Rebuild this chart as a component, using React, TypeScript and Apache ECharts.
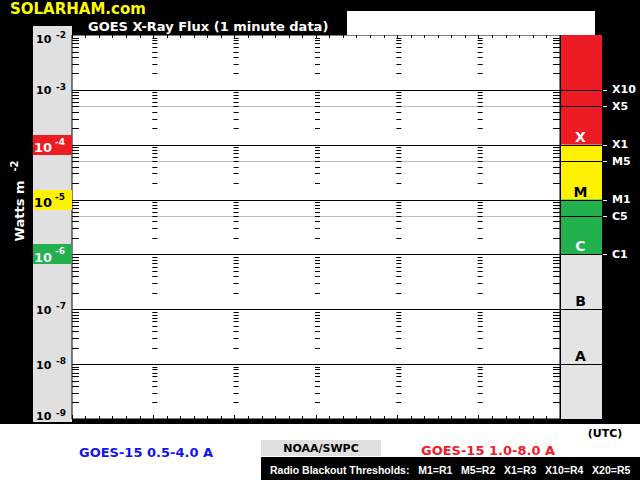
import { useEffect, useRef } from 'react'
import * as echarts from 'echarts'

// flux scale (W m^-2), decades shown on the left column
const decadeExponents = [-2, -3, -4, -5, -6, -7, -8, -9]
const minorMultipliers = [2, 3, 4, 5, 6, 7, 8, 9]
const timeBoundaries = [0, 1, 2, 3, 4, 5, 6]
const halfDecadeLines = [5e-4, 5e-5, 5e-6]

// flare classes
const classNames = ['X', 'M', 'C', 'B', 'A']
const classLower = [1e-4, 1e-5, 1e-6, 1e-7, 1e-8]
const classUpper = [1e-2, 1e-4, 1e-5, 1e-6, 1e-7]
const classFill = ['#ed1c24', '#fff200', '#22b14c', '#e4e4e4', '#e4e4e4']
const classInk = ['#ffffff', '#000000', '#eef6ff', '#000000', '#000000']
const highlightedDecades = [-4, -5, -6] // boxes coloured like X, M, C

const thresholdNames = ['X10', 'X5', 'X1', 'M5', 'M1', 'C5', 'C1']
const thresholdValues = [1e-3, 5e-4, 1e-4, 5e-5, 1e-5, 5e-6, 1e-6]

const channelNames = ['GOES-15 0.5-4.0 A', 'GOES-15 1.0-8.0 A']
const channelColors = ['#1414f0', '#f01c28']
const blackoutScales = ['M1=R1', 'M5=R2', 'X1=R3', 'X10=R4', 'X20=R5']

const FONT = 'DejaVu Sans'
const crisp = (v: number) => Math.round(v) + 0.5
const txt = (text: string, x: number, y: number, size: number, fill: string, align = 'left', extra: any = {}) =>
  ({ type: 'text', x, y, ...extra, style: { text, fill, fontSize: size, fontWeight: 'bold', fontFamily: FONT, align, verticalAlign: 'middle' } })
const hline = (xa: number, xb: number, y: number, stroke: string) =>
  ({ type: 'line', shape: { x1: xa, y1: y, x2: xb, y2: y }, style: { stroke, lineWidth: 1 } })

function renderPlot(_p: any, api: any) {
  const ch: any[] = []
  const xa = api.coord([0, 1e-5])[0], xb = api.coord([6, 1e-5])[0]
  halfDecadeLines.forEach(v => ch.push(hline(xa, xb, crisp(api.coord([0, v])[1]), '#bdbdbd')))
  timeBoundaries.forEach((t, i) => {
    const bx = api.coord([t, 1e-5])[0]
    const [a, b] = i === 0 ? [bx, bx + 7] : i === timeBoundaries.length - 1 ? [bx - 7, bx] : [bx - 1, bx + 4]
    decadeExponents.slice(1).forEach(e => minorMultipliers.forEach(k => {
      ch.push(hline(a, b, crisp(api.coord([t, k * Math.pow(10, e)])[1]), '#000'))
    }))
  })
  decadeExponents.slice(1, -1).forEach(e => ch.push(hline(xa, xb, crisp(api.coord([0, Math.pow(10, e)])[1]), '#000')))
  return { type: 'group', children: ch }
}

function renderClasses(_p: any, api: any) {
  const ch: any[] = []
  const l = api.coord([0, 1e-5])[0], r = api.coord([1, 1e-5])[0]
  const top = api.coord([0, 1e-2])[1], bot = api.coord([0, 1e-9])[1]
  ch.push({ type: 'rect', shape: { x: l, y: top, width: r - l, height: bot - top }, style: { fill: '#e4e4e4' } })
  classNames.forEach((n, i) => {
    const yt = api.coord([0, classUpper[i]])[1], yb = api.coord([0, classLower[i]])[1]
    ch.push({ type: 'rect', shape: { x: l, y: yt, width: r - l, height: yb - yt }, style: { fill: classFill[i] } })
    ch.push(txt(n, (l + r) / 2 - 1, yb - 8, 14, classInk[i], 'center'))
  })
  const lines = thresholdValues.concat(decadeExponents.slice(1, -1).map(e => Math.pow(10, e)))
  lines.forEach(v => ch.push(hline(l - 1, r, crisp(api.coord([0, v])[1]), '#000')))
  thresholdNames.forEach((n, i) => {
    const y = api.coord([0, thresholdValues[i]])[1]
    ch.push(hline(r + 1, r + 5, crisp(y), '#fff'))
    ch.push(txt(n, r + 10, y, 11, '#fff'))
  })
  return { type: 'group', children: ch }
}

function renderDecadeLabels(_p: any, api: any) {
  const ch: any[] = []
  const l = api.coord([0, 1e-5])[0], r = api.coord([1, 1e-5])[0]
  const top = api.coord([0, 1e-2])[1], bot = api.coord([0, 1e-9])[1]
  decadeExponents.forEach(e => {
    const y = api.coord([0, Math.pow(10, e)])[1]
    const ci = highlightedDecades.indexOf(e)
    if (ci >= 0) {
      ch.push({ type: 'rect', shape: { x: l, y: Math.round(y) - 10, width: r - l, height: 20 }, style: { fill: classFill[ci] } })
      const cy = y + 3
      ch.push(txt('10', l + 1, cy, 13, classInk[ci]))
      ch.push(txt(String(e), l + 22, cy - 6, 9, classInk[ci]))
    } else {
      const cy = Math.min(Math.max(y + 1, top + 4), bot - 2.5)
      ch.push(txt('10', l + 3, cy, 11, '#000'))
      ch.push(txt(String(e), l + 23, cy - 4, 9, '#000'))
    }
  })
  return { type: 'group', children: ch }
}

export default function App() {
  const ref = useRef<HTMLDivElement>(null)

  useEffect(() => {
    if (!ref.current) return
    const chart = echarts.init(ref.current, null, { renderer: 'svg' })
    const logAxis = (gridIndex: number) => ({
      gridIndex, type: 'log' as const, logBase: 10, min: 1e-9, max: 1e-2,
      axisLine: { show: false }, axisTick: { show: false }, axisLabel: { show: false }, splitLine: { show: false },
    })
    const timeAxis = (position: 'top' | 'bottom') => ({
      gridIndex: 0, type: 'value' as const, position, min: 0, max: 6, interval: 1,
      axisLine: { show: false }, axisLabel: { show: false }, splitLine: { show: false },
      axisTick: { show: true, inside: true, length: 4, lineStyle: { color: '#000' } },
      minorTick: { show: true, splitNumber: 6, length: 3, lineStyle: { color: '#000' } },
    })
    const hidden = (gridIndex: number) => ({ gridIndex, type: 'value' as const, min: 0, max: 1, show: false })

    chart.setOption({
      animation: false,
      backgroundColor: '#000',
      textStyle: { fontFamily: FONT },
      grid: [
        { left: 72, top: 35, width: 488, height: 384, show: true, backgroundColor: '#fff', borderColor: '#000', borderWidth: 1 },
        { left: 561, top: 35, width: 41, height: 384 },
        { left: 33, top: 35, width: 39, height: 384 },
      ],
      xAxis: [timeAxis('bottom'), timeAxis('top'), hidden(1), hidden(2)],
      yAxis: [logAxis(0), logAxis(1), logAxis(2)],
      series: [
        { type: 'custom', xAxisIndex: 0, yAxisIndex: 0, renderItem: renderPlot, data: [[0, 1e-5]], silent: true },
        { type: 'custom', xAxisIndex: 2, yAxisIndex: 1, renderItem: renderClasses, data: [[0, 1e-5]], silent: true },
        { type: 'custom', xAxisIndex: 3, yAxisIndex: 2, renderItem: renderDecadeLabels, data: [[0, 1e-5]], silent: true },
        { type: 'line', name: channelNames[0], xAxisIndex: 0, yAxisIndex: 0, data: [], lineStyle: { color: channelColors[0] } },
        { type: 'line', name: channelNames[1], xAxisIndex: 0, yAxisIndex: 0, data: [], lineStyle: { color: channelColors[1] } },
      ],
      graphic: [
        { type: 'rect', z: -1, shape: { x: 0, y: 424, width: 640, height: 56 }, style: { fill: '#fff' } },
        { type: 'rect', z: -1, shape: { x: 33, y: 26, width: 39, height: 396 }, style: { fill: '#e0e0e0' } },
        txt('SOLARHAM.com', 10, 9, 15, '#ffff00'),
        txt('GOES X-Ray Flux (1 minute data)', 88, 26, 13, '#fff'),
        { type: 'rect', shape: { x: 347, y: 11, width: 248, height: 24 }, style: { fill: '#fff' } },
        txt('Watts m', 19, 211, 13, '#fff', 'center', { rotation: Math.PI / 2 }),
        txt('-2', 14, 166, 10, '#fff', 'center', { rotation: Math.PI / 2 }),
        txt('(UTC)', 605, 433, 11, '#000', 'center'),
        txt(channelNames[0], 79, 452, 13, channelColors[0]),
        txt(channelNames[1], 421, 450, 13, channelColors[1]),
        { type: 'rect', shape: { x: 261, y: 440, width: 120, height: 16 }, style: { fill: '#e0e0e0' } },
        txt('NOAA/SWPC', 321, 448.5, 11, '#000', 'center'),
        { type: 'rect', shape: { x: 261, y: 457, width: 379, height: 23 }, style: { fill: '#000' } },
        {
          type: 'text', x: 270, y: 470,
          style: {
            text: 'Radio Blackout Thresholds:' + blackoutScales.map(s => '\u00a0\u00a0\u00a0' + s).join(''),
            fill: '#fff', fontSize: 10.5, fontWeight: 'bold', fontFamily: 'Liberation Sans', align: 'left', verticalAlign: 'middle',
          },
        },
      ],
    })
    return () => chart.dispose()
  }, [])

  return <div ref={ref} style={{ position: 'fixed', left: 0, top: 0, width: 640, height: 480 }} />
}
